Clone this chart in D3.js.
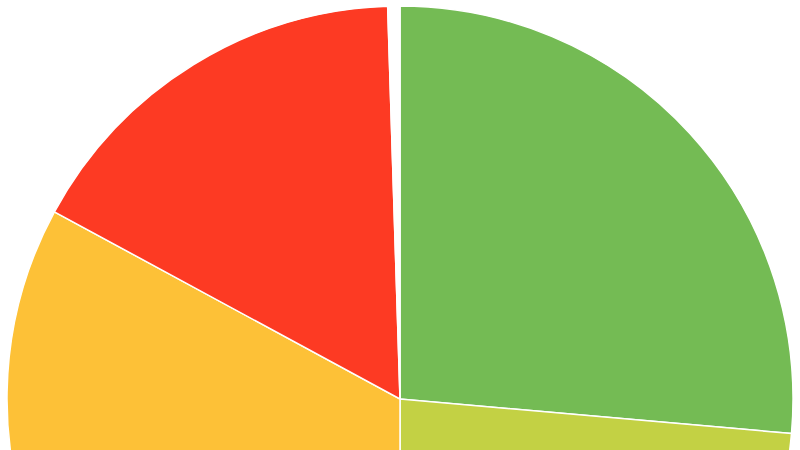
<!DOCTYPE html>
<html>
<head>
<meta charset="utf-8">
<script src="https://cdn.jsdelivr.net/npm/d3@7"></script>
<style>
html,body{margin:0;padding:0;background:#fff;overflow:hidden;}
</style>
</head>
<body>
<svg id="chart" width="800" height="450"></svg>
<script>
const categories = ["A", "B", "C", "D", "E"];
const values = [26.4, 23.6, 32.9, 16.6, 0.5];
const colors = ["#74bb54", "#c3d144", "#fdc137", "#fd3a23", "#ffffff"];

const svg = d3.select("#chart");
const cx = 400, cy = 399, r = 393;
const data = categories.map((c, i) => ({ category: c, value: values[i], color: colors[i] }));
const pie = d3.pie().sort(null).value(d => d.value);
const arc = d3.arc().innerRadius(0).outerRadius(r);

svg.append("g")
  .attr("transform", `translate(${cx},${cy})`)
  .selectAll("path")
  .data(pie(data))
  .join("path")
  .attr("d", arc)
  .attr("fill", d => d.data.color)
  .attr("stroke", "#ffffff")
  .attr("stroke-width", 1.5);
</script>
</body>
</html>
